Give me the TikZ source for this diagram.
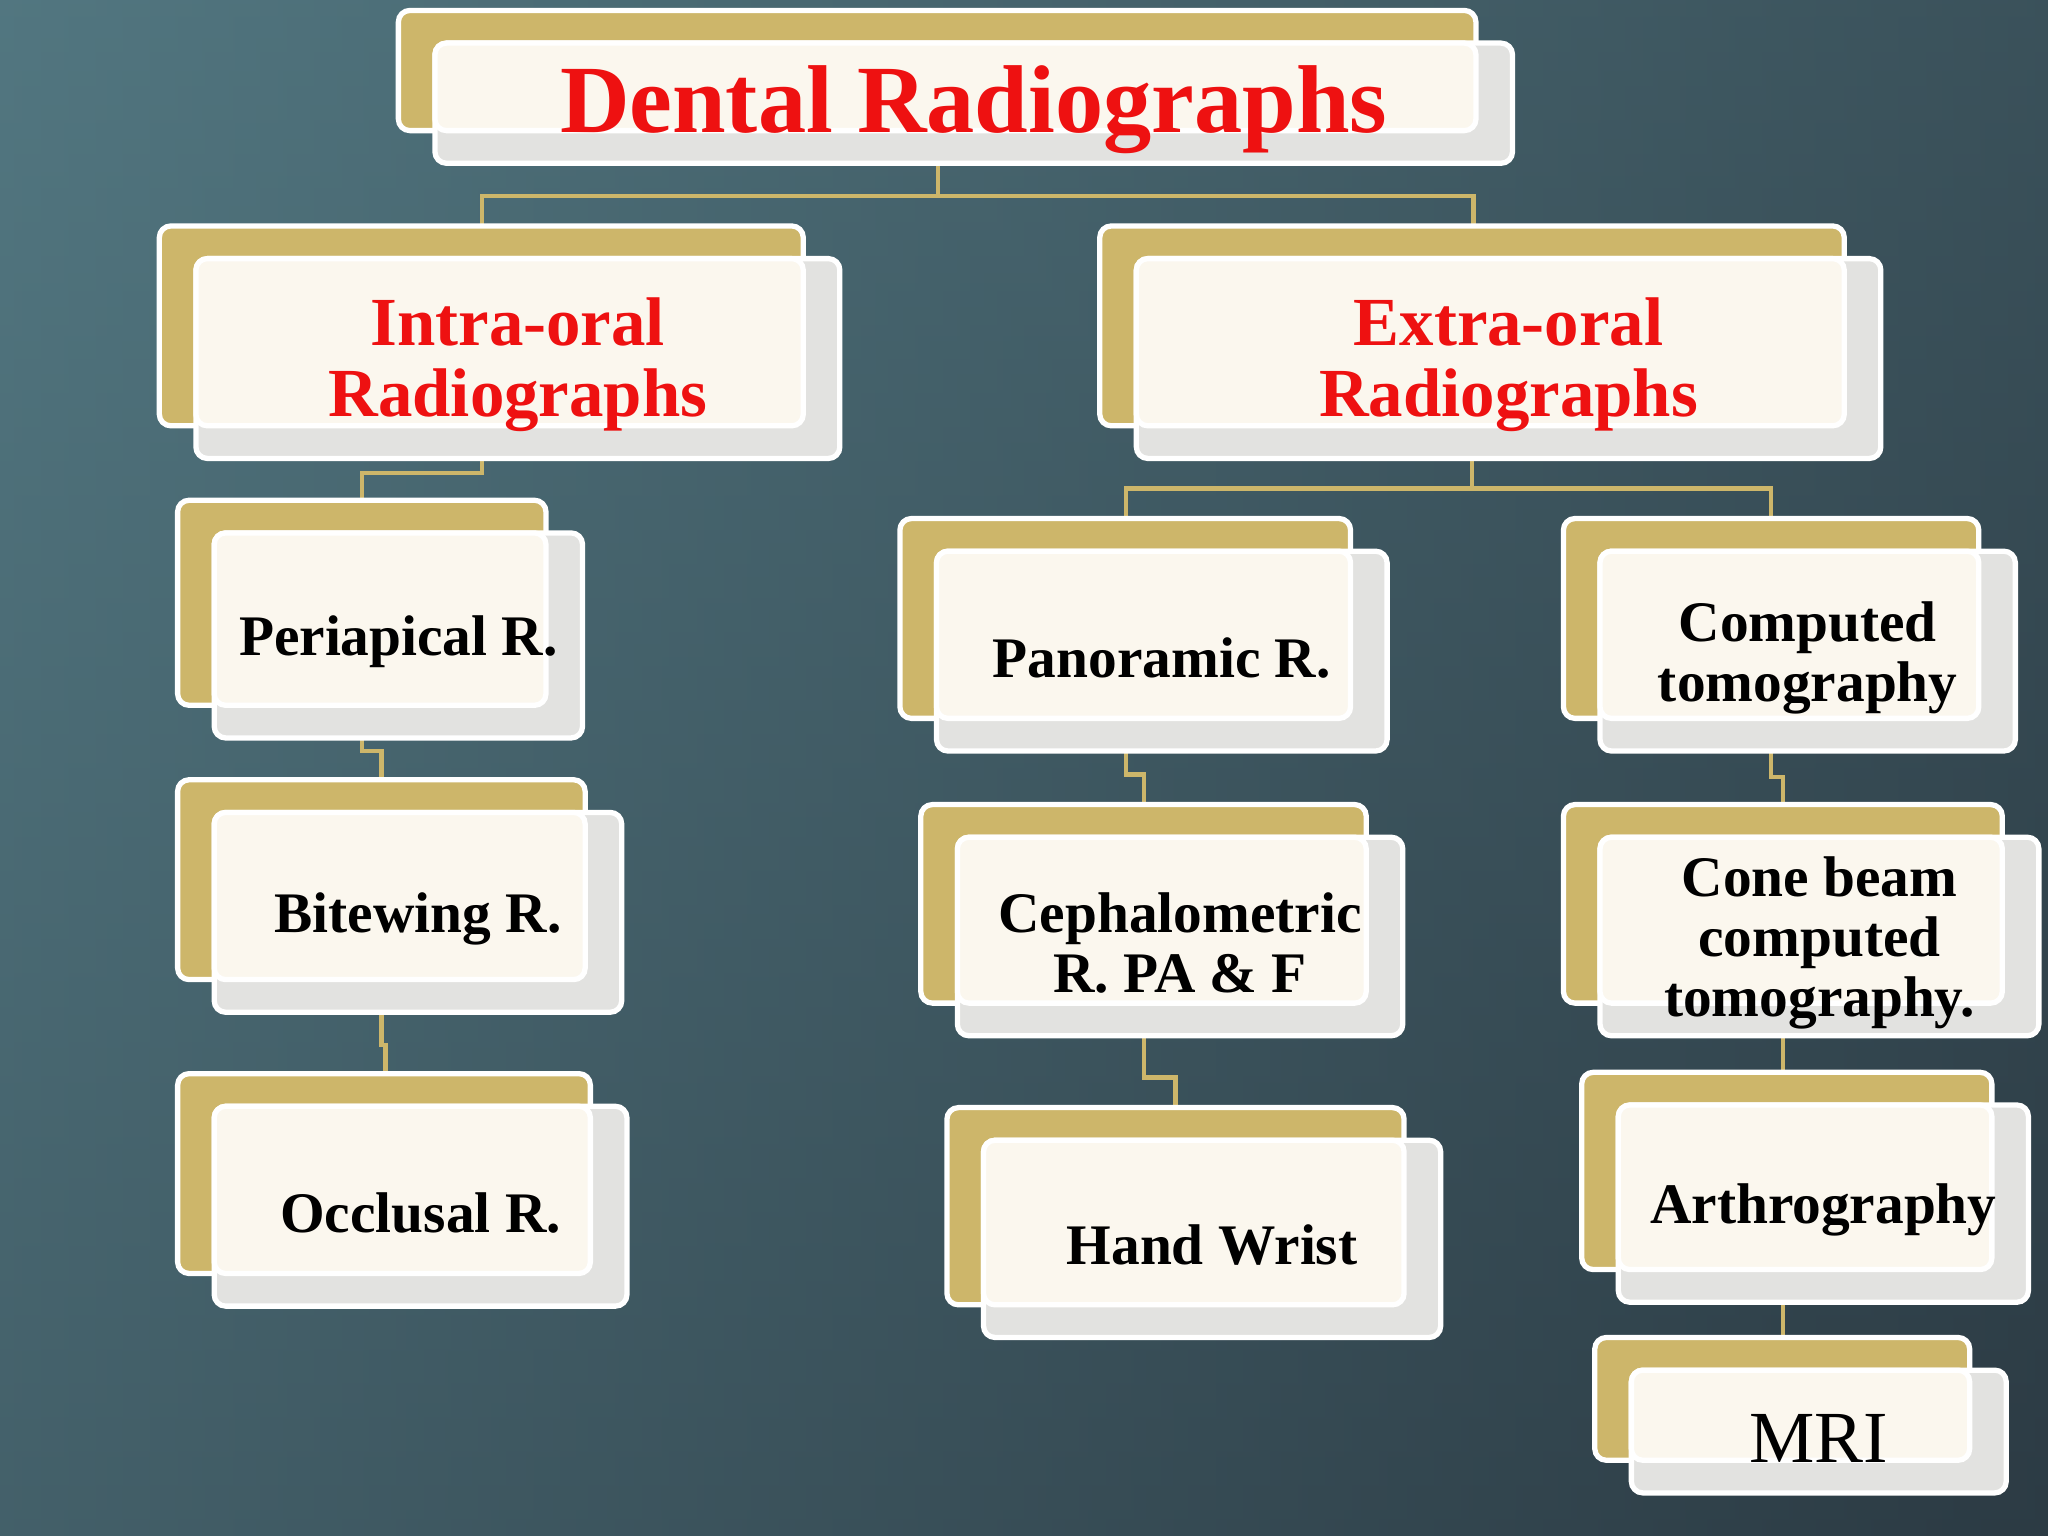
\documentclass[tikz,border=0pt]{standalone}
\usepackage{fontspec}
\setmainfont{Liberation Serif}
\usetikzlibrary{calc}
\definecolor{gold}{HTML}{CDB66A}
\definecolor{cream}{HTML}{FBF7EE}
\definecolor{shad}{HTML}{E2E2E0}
\definecolor{tred}{HTML}{EE1111}
\definecolor{bgl}{HTML}{5C8690}
\definecolor{bgd}{HTML}{2C3B44}
\tikzset{
  boxline/.style={draw=white,line width=2.3pt,rounded corners=5pt},
  conn/.style={draw=gold,line width=2pt},
  lbl/.style={font=\bfseries\fontsize{25}{26}\selectfont,align=center,text=black},
  rlbl/.style={font=\bfseries\fontsize{30}{31}\selectfont,align=center,text=tred}
}
\newcommand\dbox[7]{% name bx1 by1 bx2 by2 style text
  \fill[gold,boxline] (#2,#3) rectangle (#4,#5);
  \fill[shad,boxline] (#2+28,#3+25) rectangle (#4+28,#5+25);
  \fill[cream,boxline] (#2+28,#3+25) rectangle (#4,#5);
  \coordinate (#1t) at ({(#2+#4)/2},#3);
  \node[#6] (#1) at ({(#2+#4)/2+28},{(#3+#5)/2+30}) {#7};
}
\begin{document}
\begin{tikzpicture}[x=0.02cm,y=-0.02cm]
\useasboundingbox (0,0) rectangle (1568,1176);
\shade[left color=bgl,right color=bgd] (0,0) rectangle (1568,1176);
\shade[top color=bgl!60!bgd,bottom color=bgd,opacity=0.5] (0,0) rectangle (1568,1176);
% connectors
\draw[conn] (718,126) -- (718,150) -- (369,150) -- (369,173);
\draw[conn] (718,150) -- (1128,150) -- (1128,173);
\draw[conn] (369,352) -- (369,362) -- (277,362) -- (277,383);
\draw[conn] (277,566) -- (277,575) -- (292,575) -- (292,597);
\draw[conn] (292,776) -- (292,800) -- (295,800) -- (295,822);
\draw[conn] (1127,352) -- (1127,374) -- (862,374) -- (862,397);
\draw[conn] (1127,374) -- (1356,374) -- (1356,397);
\draw[conn] (862,576) -- (862,593) -- (876,593) -- (876,616);
\draw[conn] (876,795) -- (876,825) -- (900,825) -- (900,848);
\draw[conn] (1356,576) -- (1356,595) -- (1365,595) -- (1365,616);
\draw[conn] (1365,795) -- (1365,821);
\draw[conn] (1365,998) -- (1365,1024);
% boxes
\dbox{title}{305}{8}{1130}{100}{font=\bfseries\fontsize{42}{46}\selectfont,text=tred}{Dental Radiographs}
\dbox{intra}{122}{173}{615}{326}{rlbl}{Intra-oral\\Radiographs}
\dbox{extra}{842}{173}{1412}{326}{rlbl}{Extra-oral\\Radiographs}
\dbox{peri}{136}{383}{418}{540}{lbl}{Periapical R.}
\dbox{bite}{136}{597}{448}{750}{lbl}{Bitewing R.}
\dbox{occl}{136}{822}{452}{975}{lbl}{Occlusal R.}
\dbox{pano}{689}{397}{1034}{550}{lbl}{Panoramic R.}
\dbox{ceph}{705}{616}{1046}{768}{lbl}{Cephalometric\\R. PA \& F}
\dbox{hand}{725}{848}{1075}{999}{lbl}{Hand Wrist}
\dbox{ct}{1197}{397}{1515}{550}{lbl}{Computed\\tomography}
\dbox{cbct}{1197}{616}{1533}{768}{lbl}{Cone beam\\computed\\tomography.}
\dbox{arth}{1211}{821}{1525}{972}{lbl}{Arthrography}
\dbox{mri}{1221}{1024}{1508}{1118}{font=\fontsize{32}{36}\selectfont}{MRI}
\end{tikzpicture}
\end{document}
